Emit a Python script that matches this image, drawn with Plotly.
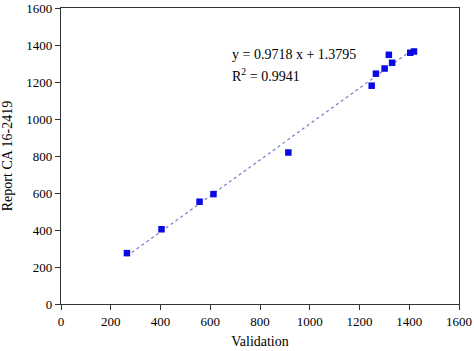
import plotly.graph_objects as go
import numpy as np

validation = [265, 404, 557, 613, 914, 1249, 1266, 1301, 1318, 1331, 1404, 1419]
report = [275, 404, 553, 594, 819, 1180, 1245, 1273, 1347, 1304, 1358, 1365]
slope = 0.9718
intercept = 1.3795
r2 = 0.9941

xl = np.array([min(validation), max(validation)])
yl = slope * xl + intercept

font = dict(family="'Liberation Serif', 'Times New Roman', serif", size=14, color="black")
tickfont = dict(family="'Liberation Serif', 'Times New Roman', serif", size=13, color="black")

fig = go.Figure()
fig.add_trace(go.Scatter(x=xl, y=yl, mode="lines",
                         line=dict(color="#7a7ac8", width=1.2, dash="dot"),
                         showlegend=False, hoverinfo="skip"))
fig.add_trace(go.Scatter(x=validation, y=report, mode="markers",
                         marker=dict(symbol="square", size=6.5, color="#0a0ae6",
                                     line=dict(width=0)),
                         showlegend=False))

fig.add_annotation(x=0.425, y=0.842, xref="paper", yref="paper", xanchor="left", yanchor="middle",
                   text=f"y = {slope} x + {intercept}", showarrow=False, font=font)
fig.add_annotation(x=0.425, y=0.775, xref="paper", yref="paper", xanchor="left", yanchor="middle",
                   text=f"R<sup>2</sup> = {r2}", showarrow=False, font=font)

axis_common = dict(showgrid=False, zeroline=False, showline=True, linecolor="#333",
                   linewidth=1.3, mirror=True, ticks="outside", ticklen=5, tickcolor="#333",
                   tickfont=tickfont, dtick=200, automargin=False)
fig.update_xaxes(range=[0, 1600], title=dict(text="Validation", font=font, standoff=8), **axis_common)
fig.update_yaxes(range=[0, 1600], title=dict(text="Report CA 16-2419", font=font, standoff=10), **axis_common)

fig.update_layout(width=474, height=351, margin=dict(l=61, r=15, t=8, b=47),
                  plot_bgcolor="white", paper_bgcolor="white", font=font)
fig.write_html("out.html")
